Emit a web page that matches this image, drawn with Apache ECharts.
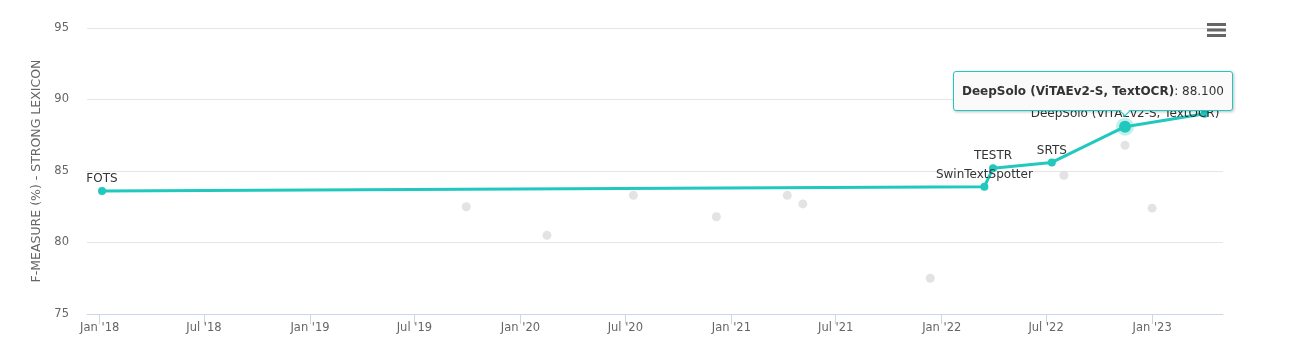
<!DOCTYPE html>
<html>
<head>
<meta charset="utf-8">
<script src="https://cdn.jsdelivr.net/npm/echarts@6/dist/echarts.min.js"></script>
<style>
html,body{margin:0;padding:0;background:#fff;}
#chart{width:1300px;height:348px;position:relative;}
#chart > div:last-child > div { left: calc(50% + 32px) !important; }
</style>
</head>
<body>
<div id="chart"></div>
<script>
// State-of-the-art progression
const sotaNames = ['FOTS', 'SwinTextSpotter', 'TESTR', 'SRTS', 'DeepSolo (ViTAEv2-S, TextOCR)', ''];
const sotaDates = ['2018-01-05', '2022-03-16', '2022-03-31', '2022-07-11', '2022-11-15', '2023-04-02'];
const sotaValues = [83.6, 83.9, 85.2, 85.6, 88.1, 89.0];

// Other (non-SOTA) models
const otherDates = ['2019-09-29', '2020-02-16', '2020-07-15', '2020-12-06', '2021-04-08', '2021-05-05', '2021-12-12', '2022-08-01', '2022-11-15', '2023-01-01'];
const otherValues = [82.5, 80.5, 83.3, 81.8, 83.3, 82.7, 77.5, 84.7, 86.8, 82.4];

const yTicks = [75, 80, 85, 90, 95];
const monthNames = ['Jan','Feb','Mar','Apr','May','Jun','Jul','Aug','Sep','Oct','Nov','Dec'];
const highlightIndex = 4;

const TEAL = '#21c8be';
const FONT = 'DejaVu Sans';

const sotaData = sotaNames.map((n, i) => {
  const item = { name: n, value: [sotaDates[i], sotaValues[i]] };
  if (i === highlightIndex) {
    item.symbolSize = 12;
    item.itemStyle = { color: TEAL, borderColor: 'rgba(33,200,190,0.28)', borderWidth: 6 };
    item.label = { distance: -2 };
  }
  if (n === '') item.label = { show: false };
  return item;
});
const otherData = otherDates.map((d, i) => [d, otherValues[i]]);

const chart = echarts.init(document.getElementById('chart'));
chart.setOption({
  animation: false,
  textStyle: { fontFamily: FONT },
  grid: { left: 87, right: 77, top: 28, bottom: 34, containLabel: false },
  toolbox: {
    right: 74, top: 23, padding: 0, itemSize: 19,
    iconStyle: { color: '#666', borderWidth: 0 },
    emphasis: { iconStyle: { color: '#444', borderWidth: 0, textFill: 'transparent' } },
    feature: {
      myMenu: {
        show: true, title: ' ',
        icon: 'path://M0,0H19V3H0Z M0,5.5H19V8.5H0Z M0,11H19V14H0Z',
        onclick: function () {}
      }
    }
  },
  tooltip: {
    trigger: 'item',
    position: 'top',
    alwaysShowContent: true,
    transitionDuration: 0,
    backgroundColor: '#fafafa',
    borderColor: TEAL,
    borderWidth: 1.5,
    padding: [10, 8],
    textStyle: { color: '#333', fontSize: 12, fontFamily: FONT },
    extraCssText: 'box-shadow:1px 1px 3px rgba(0,0,0,0.25);border-radius:3px;margin-left:-32px;margin-top:4px;',
    formatter: function (p) {
      return '<b>' + p.name + '</b>: ' + p.value[1].toFixed(3);
    }
  },
  xAxis: {
    type: 'time',
    min: '2017-12-10',
    max: '2023-05-04',
    minInterval: 181 * 86400000,
    maxInterval: 184 * 86400000,
    axisLine: { lineStyle: { color: '#ccd6eb', width: 1 } },
    axisTick: { show: true, length: 10, lineStyle: { color: '#ccd6eb' } },
    splitLine: { show: false },
    axisLabel: {
      color: '#666', fontSize: 11.5, fontFamily: FONT, margin: 8,
      showMinLabel: false, showMaxLabel: false,
      formatter: function (v) {
        const d = new Date(v);
        const yy = String(d.getFullYear()).slice(2);
        return monthNames[d.getMonth()] + " '" + yy;
      }
    }
  },
  yAxis: {
    type: 'value',
    min: yTicks[0],
    max: yTicks[yTicks.length - 1],
    interval: 5,
    name: 'F-MEASURE (%) - STRONG LEXICON',
    nameLocation: 'middle',
    nameGap: 44,
    nameTextStyle: { color: '#666', fontSize: 12.5, fontFamily: FONT },
    axisLine: { show: false },
    axisTick: { show: false },
    axisLabel: { color: '#666', fontSize: 11.5, fontFamily: FONT, margin: 18 },
    splitLine: { lineStyle: { color: '#e6e6e6', width: 1 } }
  },
  series: [
    {
      type: 'scatter',
      name: 'Other models',
      data: otherData,
      symbolSize: 9,
      itemStyle: { color: '#dcdcdc' },
      tooltip: { show: false },
      silent: true,
      z: 1
    },
    {
      type: 'line',
      name: 'State-of-the-art',
      data: sotaData,
      showAllSymbol: true,
      symbol: 'circle',
      symbolSize: 8,
      lineStyle: { color: TEAL, width: 3 },
      itemStyle: { color: TEAL },
      label: {
        show: true, position: 'top', distance: 2,
        formatter: '{b}', color: '#333', fontSize: 12, fontFamily: FONT
      },
      z: 3
    }
  ]
});
function showTip() {
  chart.dispatchAction({ type: 'showTip', seriesIndex: 1, dataIndex: highlightIndex });
}
showTip();
setTimeout(showTip, 50);
</script>
</body>
</html>
